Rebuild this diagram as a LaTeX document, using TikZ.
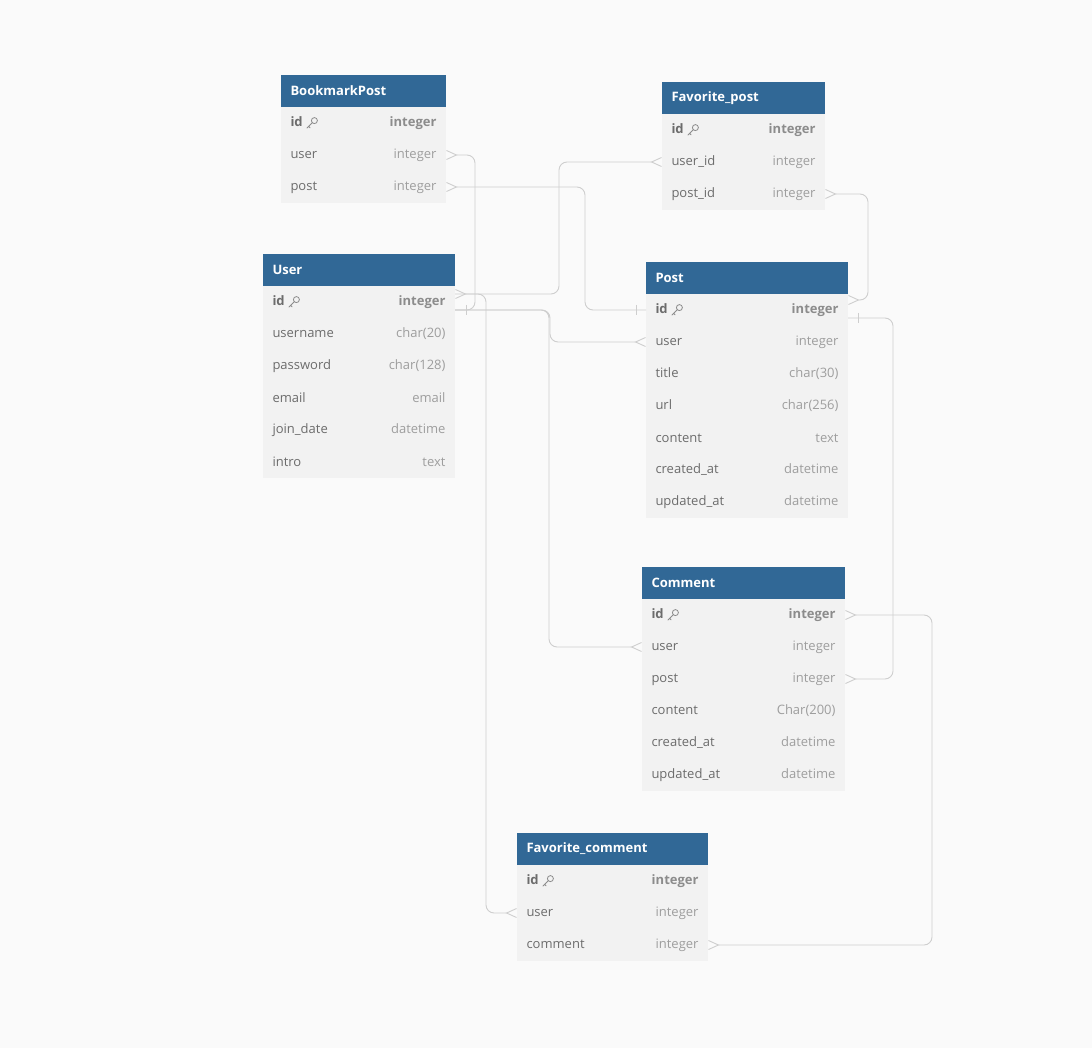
\documentclass[tikz,border=0pt]{standalone}
\usepackage{fontspec}
\setmainfont{Open Sans}
\usetikzlibrary{positioning,calc,arrows.meta}

\definecolor{headblue}{RGB}{49,104,150}
\definecolor{rowgray}{RGB}{242,242,242}
\definecolor{pagegray}{RGB}{250,250,250}
\definecolor{namegray}{RGB}{108,108,108}
\definecolor{typegray}{RGB}{158,158,158}
\definecolor{keytype}{RGB}{140,140,140}
\definecolor{linkgray}{RGB}{206,206,206}

\newcommand{\tblfont}{\fontsize{13}{15}\selectfont}

\tikzset{
  head/.style={fill=headblue, text=white, font=\tblfont\bfseries, text width=#1,
    minimum height=32pt, inner xsep=9.5pt, inner ysep=0pt, outer sep=0pt, align=left, anchor=north west},
  field/.style={fill=rowgray, text=namegray, font=\tblfont, text width=#1,
    minimum height=32pt, inner xsep=9.5pt, inner ysep=0pt, outer sep=0pt, align=left},
  keyfield/.style={field=#1, font=\tblfont\bfseries},
  link/.style={draw=linkgray, line width=0.9pt, rounded corners=8pt},
  crow/.tip={Straight Barb[reversed, length=10pt, width=9pt, line width=0.9pt]},
  key/.pic={
    \draw[keytype, line width=0.8pt] (2.4,-2.4) circle (3pt);
    \draw[keytype, line width=0.8pt, line cap=round, line join=round]
      (0.3,-0.3) -- (-5,5) (-3.4,3.4) -- (-2,4.8);
  }
}

\begin{document}
\begin{tikzpicture}[x=1pt, y=-1pt]
    % page
    \fill[pagegray] (0,0) rectangle (1092,1048);
    \useasboundingbox (0,0) rectangle (1092,1048);

    % BookmarkPost
    \node[head=146pt] (bm-head) at (281,75) {BookmarkPost};
    \node[keyfield=146pt, below=0pt of bm-head] (bm-id) {id\hfill\textcolor{keytype}{integer}};
    \node[field=146pt, below=0pt of bm-id] (bm-user) {user\hfill\textcolor{typegray}{integer}};
    \node[field=146pt, below=0pt of bm-user] (bm-post) {post\hfill\textcolor{typegray}{integer}};
    \pic at ($(bm-id.west)+(31,0)$) {key};

    % Favorite_post
    \node[head=144pt] (fp-head) at (662,82) {Favorite\_post};
    \node[keyfield=144pt, below=0pt of fp-head] (fp-id) {id\hfill\textcolor{keytype}{integer}};
    \node[field=144pt, below=0pt of fp-id] (fp-user) {user\_id\hfill\textcolor{typegray}{integer}};
    \node[field=144pt, below=0pt of fp-user] (fp-post) {post\_id\hfill\textcolor{typegray}{integer}};
    \pic at ($(fp-id.west)+(31,0)$) {key};

    % User
    \node[head=173pt] (user-head) at (263,254) {User};
    \node[keyfield=173pt, below=0pt of user-head] (user-id) {id\hfill\textcolor{keytype}{integer}};
    \node[field=173pt, below=0pt of user-id] (user-username) {username\hfill\textcolor{typegray}{char(20)}};
    \node[field=173pt, below=0pt of user-username] (user-password) {password\hfill\textcolor{typegray}{char(128)}};
    \node[field=173pt, below=0pt of user-password] (user-email) {email\hfill\textcolor{typegray}{email}};
    \node[field=173pt, below=0pt of user-email] (user-joindate) {join\_date\hfill\textcolor{typegray}{datetime}};
    \node[field=173pt, below=0pt of user-joindate] (user-intro) {intro\hfill\textcolor{typegray}{text}};
    \pic at ($(user-id.west)+(31,0)$) {key};

    % Post
    \node[head=183pt] (post-head) at (646,262) {Post};
    \node[keyfield=183pt, below=0pt of post-head] (post-id) {id\hfill\textcolor{keytype}{integer}};
    \node[field=183pt, below=0pt of post-id] (post-user) {user\hfill\textcolor{typegray}{integer}};
    \node[field=183pt, below=0pt of post-user] (post-title) {title\hfill\textcolor{typegray}{char(30)}};
    \node[field=183pt, below=0pt of post-title] (post-url) {url\hfill\textcolor{typegray}{char(256)}};
    \node[field=183pt, below=0pt of post-url] (post-content) {content\hfill\textcolor{typegray}{text}};
    \node[field=183pt, below=0pt of post-content] (post-created) {created\_at\hfill\textcolor{typegray}{datetime}};
    \node[field=183pt, below=0pt of post-created] (post-updated) {updated\_at\hfill\textcolor{typegray}{datetime}};
    \pic at ($(post-id.west)+(31,0)$) {key};

    % Comment
    \node[head=184pt] (cm-head) at (642,567) {Comment};
    \node[keyfield=184pt, below=0pt of cm-head] (cm-id) {id\hfill\textcolor{keytype}{integer}};
    \node[field=184pt, below=0pt of cm-id] (cm-user) {user\hfill\textcolor{typegray}{integer}};
    \node[field=184pt, below=0pt of cm-user] (cm-post) {post\hfill\textcolor{typegray}{integer}};
    \node[field=184pt, below=0pt of cm-post] (cm-content) {content\hfill\textcolor{typegray}{Char(200)}};
    \node[field=184pt, below=0pt of cm-content] (cm-created) {created\_at\hfill\textcolor{typegray}{datetime}};
    \node[field=184pt, below=0pt of cm-created] (cm-updated) {updated\_at\hfill\textcolor{typegray}{datetime}};
    \pic at ($(cm-id.west)+(31,0)$) {key};

    % Favorite_comment
    \node[head=172pt] (fc-head) at (517,833) {Favorite\_comment};
    \node[keyfield=172pt, below=0pt of fc-head] (fc-id) {id\hfill\textcolor{keytype}{integer}};
    \node[field=172pt, below=0pt of fc-id] (fc-user) {user\hfill\textcolor{typegray}{integer}};
    \node[field=172pt, below=0pt of fc-user] (fc-comment) {comment\hfill\textcolor{typegray}{integer}};
    \pic at ($(fc-id.west)+(31,0)$) {key};

    % relations
    \draw[link, {crow}-] (bm-user.east) -- ++(29,0) |- ([yshift=-8pt]user-id.east);
    \draw[link, {crow}-] (bm-post.east) -- ++(139,0) |- (post-id.west);
    \draw[link, {crow}-{crow}] (fp-user.west) -- ++(-103,0) |- ([yshift=8pt]user-id.east);
    \draw[link, {crow}-{crow}] (fp-post.east) -- ++(43,0) |- ([yshift=10pt]post-id.east);
    \draw[link, -{crow}] ([yshift=-8pt]post-id.east) -- ++(45,0) |- (cm-post.east);
    \draw[link, -{crow}] ([yshift=-8pt]user-id.east) -- ++(95,0) |- (post-user.west);
    \draw[link, -{crow}] ([yshift=-8pt]user-id.east) -- ++(94,0) |- (cm-user.west);
    \draw[link, -{crow}] ([yshift=8pt]user-id.east) -- ++(31,0) |- (fc-user.west);
    \draw[link, {crow}-{crow}] (cm-id.east) -- ++(87,0) |- (fc-comment.east);

    % one ends
    \draw[link] ($(user-id.east)+(11,3)$) -- ++(0,10);
    \draw[link] ($(post-id.west)+(-10,-5)$) -- ++(0,10);
    \draw[link] ($(post-id.east)+(10,3)$) -- ++(0,10);
\end{tikzpicture}
\end{document}
